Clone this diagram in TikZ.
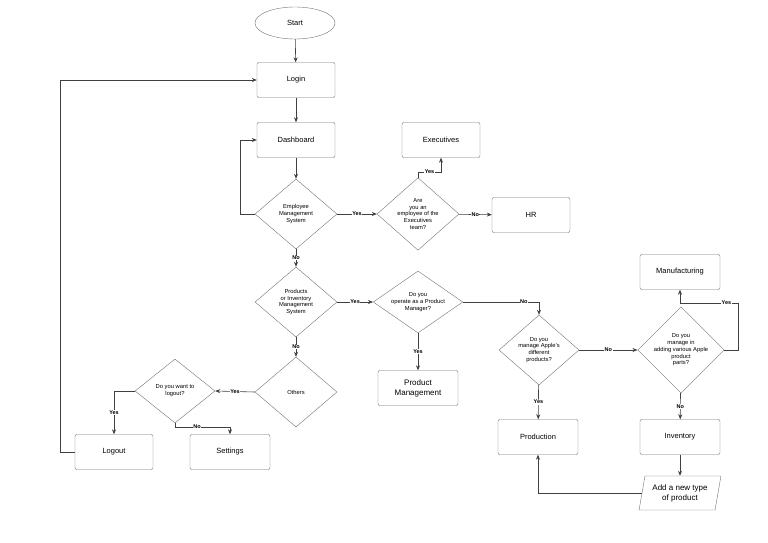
\documentclass[tikz,border=0pt]{standalone}
\usepackage{fontspec}
\setmainfont{Liberation Sans}
\usetikzlibrary{shapes.geometric,arrows.meta}
\begin{document}
\begin{tikzpicture}[x=1pt,y=-1pt,
  box/.style={draw=black!55,rounded corners=2pt,minimum width=78pt,minimum height=35pt,font=\fontsize{7.5}{9}\selectfont,align=center,inner sep=1pt},
  dia/.style={draw=black!55,diamond,aspect=1,minimum width=82pt,minimum height=70pt,inner sep=0pt,font=\fontsize{5.8}{6.8}\selectfont,align=center},
  ar/.style={draw=black!75,-{Stealth[length=5pt,width=4pt]},line width=0.6pt},
  lab/.style={fill=white,inner sep=0.5pt,font=\bfseries\fontsize{5.5}{6}\selectfont}]
\useasboundingbox (0,0) rectangle (768,543);
\node[draw=black!55,ellipse,minimum width=80pt,minimum height=32pt,font=\fontsize{7.5}{9}\selectfont] (start) at (295,23) {Start};
\node[box] (login) at (296,80) {Login};
\node[box] (dash) at (296,140) {Dashboard};
\node[dia] (ems) at (296,214) {Employee\\Management\\System};
\node[dia] (are) at (418,214) {Are\\you an\\employee of the\\Executives\\team?};
\node[box] (exec) at (441,140) {Executives};
\node[box] (hr) at (531,215) {HR};
\node[dia] (pims) at (296,302) {Products\\or Inventory\\Management\\System};
\node[dia,aspect=1.9,minimum width=86pt,minimum height=62pt] (op) at (418,302) {Do you\\operate as a Product\\Manager?};
\node[box,minimum width=80pt,font=\fontsize{8}{10}\selectfont] (pm) at (418,388) {Product\\Management};
\node[dia] (oth) at (296,392) {Others};
\node[dia,minimum width=80pt,minimum height=64pt] (lq) at (175,391) {Do you want to\\logout?};
\node[box] (logout) at (114,452) {Logout};
\node[box,minimum width=80pt] (set) at (230,452) {Settings};
\node[dia,minimum width=80pt] (app) at (539,350) {Do you\\manage Apple's\\different\\products?};
\node[box,minimum width=80pt] (prod) at (538,437) {Production};
\node[dia,minimum width=84pt,minimum height=74pt] (add) at (681,350) {Do you\\manage in\\adding various Apple\\product\\parts?};
\node[box,minimum width=80pt] (man) at (680,272) {Manufacturing};
\node[box,minimum width=80pt] (inv) at (680,437) {Inventory};
\node[draw=black!55,trapezium,trapezium left angle=75,trapezium right angle=105,trapezium stretches=true,minimum width=82pt,minimum height=34pt,font=\fontsize{8}{10}\selectfont,align=center,inner sep=0pt] (new) at (680,493) {Add a new type\\of product};
\draw[ar] (start) -- (login);
\draw[ar] (login) -- (dash);
\draw[ar] (dash) -- (ems);
\draw[ar] (ems.west) -- (240,214) |- (dash.west);
\draw[ar] (ems) -- node[lab]{Yes} (are);
\draw[ar] (are.north) |- node[lab,pos=0.75]{Yes} (441,172) -- (exec.south);
\draw[ar] (are) -- node[lab]{No} (hr);
\draw[ar] (ems) -- node[lab]{No} (pims);
\draw[ar] (pims) -- node[lab]{Yes} (op);
\draw[ar] (op.east) -| node[lab,pos=0.4]{No} (app.north);
\draw[ar] (op) -- node[lab]{Yes} (pm);
\draw[ar] (pims) -- node[lab]{No} (oth);
\draw[ar] (oth.west) -- node[lab]{Yes} (lq.east);
\draw[ar] (lq.west) -| node[lab,pos=0.75]{Yes} (logout.north);
\draw[ar] (lq.south) |- (230,427) node[lab,pos=0.7]{No} -- (set.north);
\draw[ar] (logout.west) -- (60,452) |- (login.west);
\draw[ar] (app) -- node[lab]{No} (add);
\draw[ar] (app) -- node[lab]{Yes} (prod);
\draw[ar] (add.east) -- (738,350) |- node[lab,pos=0.6]{Yes} (680,303) -- (man.south);
\draw[ar] (add) -- node[lab]{No} (inv);
\draw[ar] (inv) -- (new);
\draw[ar] (new.west) -| (prod.south);
\end{tikzpicture}
\end{document}
